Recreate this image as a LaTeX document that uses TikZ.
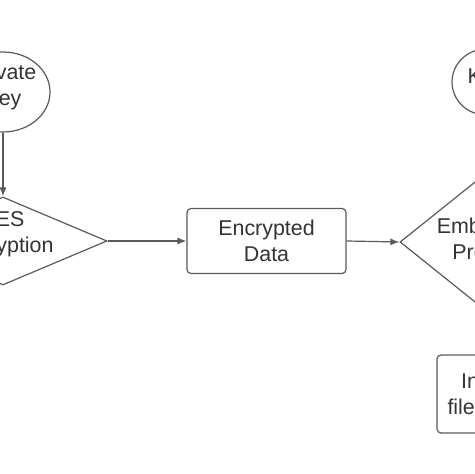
\documentclass[tikz,border=0pt]{standalone}
\usepackage{fontspec}
\setmainfont{Liberation Sans}
\usepackage{tikz}
\usetikzlibrary{arrows.meta,shapes.geometric}
\definecolor{linegray}{HTML}{5A5A5A}
\definecolor{textgray}{HTML}{333333}

\begin{document}
\begin{tikzpicture}[x=0.5pt,y=-0.5pt,
  every node/.style={font=\fontsize{10.7}{13}\selectfont, text=textgray},
  shapeline/.style={draw=linegray, line width=0.6pt},
  oval/.style={shapeline, ellipse, inner sep=0pt},
  decision/.style={shapeline, diamond, inner sep=0pt},
  block/.style={shapeline, rectangle, rounded corners=2pt, align=center},
  caption/.style={align=center, inner sep=0pt},
  flow/.style={draw=linegray, line width=0.6pt, -{Latex[length=4.5pt,width=3.5pt]}}]
\useasboundingbox (0,0) rectangle (474,474);
\node[oval, minimum width=47pt, minimum height=40pt] (privkey) at (3,92) {};
\node[caption] (privkey-text) at (3,87) {Private\\Key};
\node[decision, minimum width=104pt, minimum height=44pt] (aes) at (3,241) {};
\node[caption] (aes-text) at (3,234) {AES\\Encryption};
\node[block, minimum width=79.5pt, minimum height=32.5pt] (encdata) at (266.5,241) {Encrypted\\Data};
\node[decision, minimum width=91pt, minimum height=73pt] (embed) at (491,242) {};
\node[caption] (embed-text) at (491,239) {Embedding\\Process};
\node[oval, minimum width=34pt, minimum height=33pt] (key) at (486,82) {};
\node[caption] (key-text) at (486,78) {Key};
\node[block, minimum width=48pt, minimum height=39pt] (input) at (485,394) {Input\\file data};
\draw[flow] (privkey) -- (aes);
\draw[flow] (aes.east) -- (encdata.west);
\draw[flow] (encdata.east) -- (embed.west);
\end{tikzpicture}
\end{document}
